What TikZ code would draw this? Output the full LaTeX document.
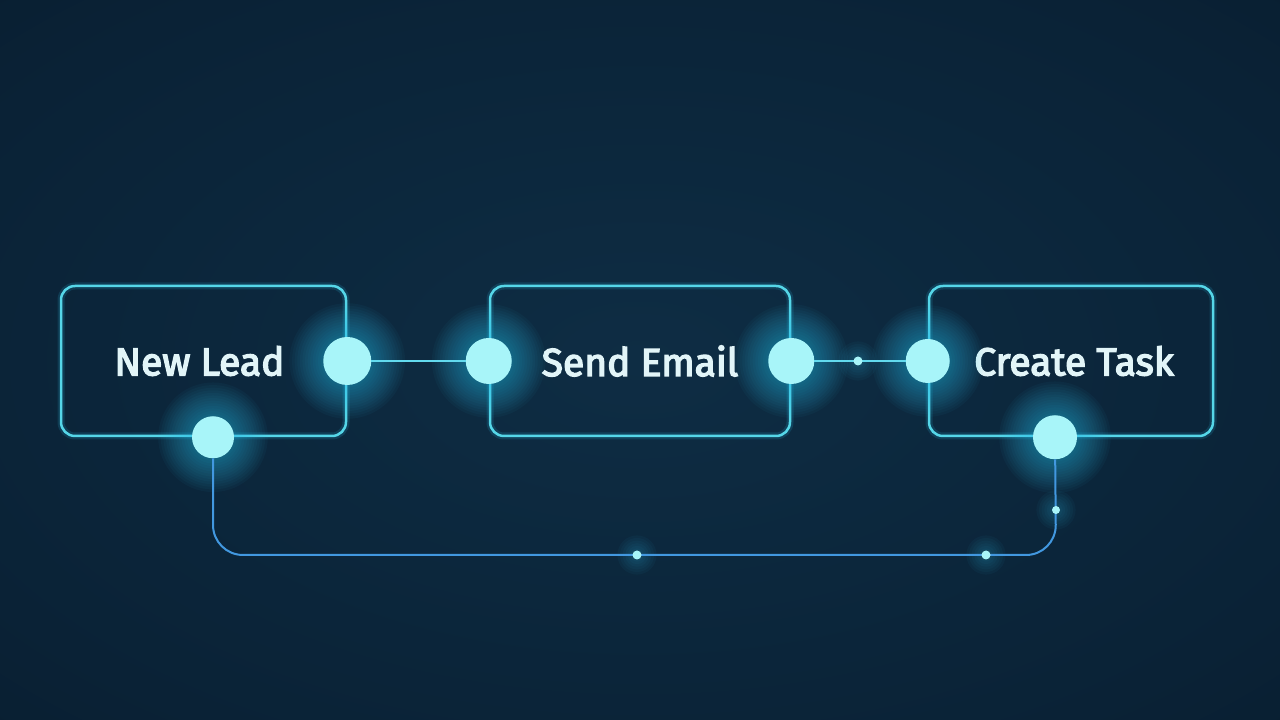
\documentclass[tikz,border=0pt]{standalone}
\usepackage{fontspec}
\setmainfont{Fira Sans}
\newfontfamily\labelfont{Fira Sans}[FakeBold=3.5]
\usetikzlibrary{positioning,calc}

\definecolor{bgin}{HTML}{0E2D44}
\definecolor{bgmid}{HTML}{0A2236}
\definecolor{bgout}{HTML}{061625}
\definecolor{edge}{HTML}{55D6E8}
\definecolor{portc}{HTML}{A8F5F9}
\definecolor{glowc}{HTML}{2CC6F2}
\definecolor{wire}{HTML}{62DAEE}
\definecolor{loopc}{HTML}{4298E0}
\definecolor{txt}{HTML}{E2F5F8}

\pgfdeclareradialshading{bgglow}{\pgfpoint{0bp}{0bp}}{color(0bp)=(bgin); color(30bp)=(bgmid); color(55bp)=(bgout); color(75bp)=(bgout)}

\tikzset{
    stepbox/.style={draw=edge, line width=2.5pt, rounded corners=14pt, minimum width=#1, minimum height=150pt,
        inner sep=0pt, text=txt, font=\labelfont\fontsize{39}{40}\selectfont,
        preaction={draw=glowc, line width=7pt, draw opacity=0.15}},
    port/.style={circle, fill=portc, minimum size=#1, inner sep=0pt},
    dot/.style={circle, fill=portc, minimum size=9pt, inner sep=0pt},
    wire/.style={draw=wire, line width=1.8pt},
    loopwire/.style={draw=loopc, line width=2pt, rounded corners=30pt}
}

\newcommand{\glowat}[3]{% position, radius, steps
    \foreach \k in {1,...,#3} \fill[glowc, opacity=0.04] (#1) circle ({#2+\k*2.6pt});}

\begin{document}
\begin{tikzpicture}[x=1pt, y=1pt]
    \useasboundingbox (0,0) rectangle (1280,720);
    \shade[shading=bgglow] (0,0) rectangle (1280,720);

    % the three steps
    \node[stepbox=285pt] (lead) at (203.5,359) {\kern-8pt New Lead};
    \node[stepbox=300pt] (email) at (640,359) {Send Email};
    \node[stepbox=284pt] (task) at (1071,359) {\kern6pt Create Task};

    \coordinate (leadout) at ($(lead.south)+(9.5,0)$);
    \coordinate (taskin) at ($(task.south)+(-16,0)$);
    \coordinate (lowleft) at (213,165);
    \coordinate (lowright) at (1056,165);

    \glowat{lead.east}{24pt}{13}
    \glowat{email.west}{23pt}{13}
    \glowat{email.east}{23pt}{13}
    \glowat{task.west}{22pt}{13}
    \glowat{leadout}{21pt}{13}
    \glowat{taskin}{22pt}{13}
    \glowat{858,359}{4pt}{6}
    \glowat{637,165}{4pt}{6}
    \glowat{986,165}{4pt}{6}
    \glowat{1056,210}{4pt}{6}

    \node[port=48pt] (p1e) at (lead.east) {};
    \node[port=46pt] (p2w) at (email.west) {};
    \node[port=46pt] (p2e) at (email.east) {};
    \node[port=44pt] (p3w) at (task.west) {};
    \node[port=42pt] (p1s) at (leadout) {};
    \node[port=44pt] (p3s) at (taskin) {};

    \draw[wire] (p1e) -- (p2w);
    \draw[wire] (p2e) -- (p3w);
    \draw[loopwire] (p1s) -- (lowleft) -- (lowright) -- (p3s);

    \node[dot] (d1) at (858,359) {};
    \node[dot] (d2) at (637,165) {};
    \node[dot] (d3) at (986,165) {};
    \node[dot, minimum size=8pt] (d4) at (1056,210) {};
\end{tikzpicture}
\end{document}
